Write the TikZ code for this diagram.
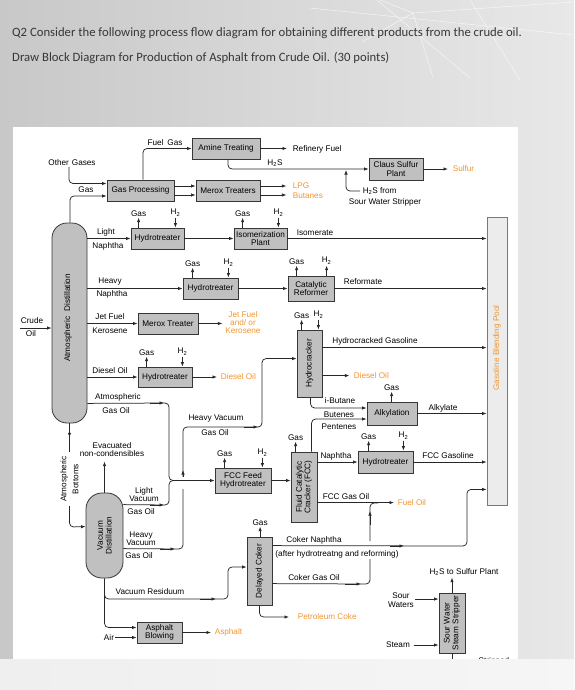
\documentclass[tikz,border=0pt]{standalone}
\usepackage{fontspec}
\setmainfont{Liberation Sans}
\newfontfamily\titlef{Carlito}
\usetikzlibrary{arrows.meta,calc}
\definecolor{bdr}{RGB}{55,55,55}
\definecolor{boxfill}{RGB}{192,192,192}
\definecolor{lnc}{RGB}{40,40,40}
\definecolor{orng}{RGB}{240,150,50}
\definecolor{poolfill}{RGB}{236,236,236}
\definecolor{poolbdr}{RGB}{120,120,120}
\definecolor{bgl}{RGB}{200,200,200}
\definecolor{bgr}{RGB}{232,232,232}
\definecolor{ttl}{RGB}{55,55,55}
\newcommand\dg{\fontsize{8.2}{8.6}\selectfont}
\tikzset{
 box/.style={draw=bdr, fill=boxfill, line width=0.8pt, inner sep=0pt, align=center, font=\dg},
 col/.style={draw=bdr, fill=boxfill, line width=0.8pt, inner sep=0pt},
 lbl/.style={font=\dg, inner sep=0.6pt, align=center},
 org/.style={lbl, text=orng},
 ln/.style={draw=lnc, line width=0.75pt},
 arr/.style={ln, -{Latex[length=4.5pt,width=3.4pt]}},
 rc/.style={rounded corners=4pt},
}
\newcommand{\gasout}[3]{\draw[arr] ($(#1.north west)+(#2,0)$) -- ++(0,-10) node[lbl,above=0.5pt]{#3};}
\newcommand{\hin}[3]{\draw[arr] ($(#1.north east)+(-#2,-10)$) node[lbl,above=0.5pt]{#3} -- ++(0,10);}
\newcommand{\Ht}{H\textsubscript{2}}
\begin{document}
\begin{tikzpicture}[x=1pt,y=-1pt]
\useasboundingbox (0,0) rectangle (574,690);
% background
\shade[left color=bgl, right color=bgr] (0,0) rectangle (574,690);
\begin{scope}[white, opacity=0.7, line width=0.5pt]
\draw (413,13) -- (362,42);
\draw (413,13) -- (574,2);
\draw (413,13) -- (433,77);
\draw (413,13) -- (380,0);
\draw (377,0) -- (470,78);
\draw (310,8) -- (574,35);
\draw (470,0) -- (520,80);
\end{scope}
\fill[white] (13,127) rectangle (518,660);
% title
\node[anchor=west, font=\titlef\fontsize{12.7}{14}\selectfont, text=ttl, inner sep=0] at (12,33) {Q2 Consider the following process flow diagram for obtaining different products from the crude oil.};
\node[anchor=west, font=\titlef\fontsize{12.7}{14}\selectfont, text=ttl, inner sep=0] at (12,58) {Draw Block Diagram for Production of Asphalt from Crude Oil. (30 points)};

% columns
\node[col, rounded corners=15pt, minimum width=35, minimum height=200] (atm) at (69.5,323) {};
\node[lbl, rotate=90] at (68,318) {Atmospheric\hspace{5pt}Distillation};
\node[col, rounded corners=16pt, minimum width=37, minimum height=85] (vac) at (104.5,535.5) {};
\node[lbl, rotate=90] at (vac) {Vacuum\\Distillation};

% boxes
\node[box, minimum width=68, minimum height=21] (amine) at (226,148.5) {Amine Treating};
\node[box, minimum width=67, minimum height=21] (gasp) at (140.5,190.5) {Gas Processing};
\node[box, minimum width=64, minimum height=21] (merox) at (228,190.5) {Merox Treaters};
\node[box, minimum width=54, minimum height=22] (claus) at (396,169) {Claus Sulfur\\Plant};
\node[box, minimum width=53, minimum height=21] (ht1) at (157.5,238.5) {Hydrotreater};
\node[box, minimum width=53, minimum height=21] (isom) at (260.5,238.5) {Isomerization\\Plant};
\node[box, minimum width=55, minimum height=21] (ht2) at (210.5,288.5) {Hydrotreater};
\node[box, minimum width=46, minimum height=25] (catref) at (311,288.5) {Catalytic\\Reformer};
\node[box, minimum width=60, minimum height=21] (merox2) at (168,323.5) {Merox Treater};
\node[box, minimum width=54, minimum height=20] (ht3) at (165,377) {Hydrotreater};
\node[box, minimum width=25, minimum height=67] (hc) at (309.5,363.5) {};
\node[lbl, rotate=90] at (hc) {Hydrocracker};
\node[box, minimum width=50, minimum height=23] (alky) at (392,413.5) {Alkylation};
\node[box, minimum width=55, minimum height=22] (ht4) at (385.5,462) {Hydrotreater};
\node[box, minimum width=56, minimum height=25] (fccf) at (243,480.5) {FCC Feed\\Hydrotreater};
\node[box, minimum width=26, minimum height=70] (fcc) at (304,487) {};
\node[lbl, rotate=90] at (fcc) {Fluid Catalytic\\Cracker (FCC)};
\node[box, minimum width=25, minimum height=68] (coker) at (259.5,571) {};
\node[lbl, rotate=90] at (coker) {Delayed Coker};
\node[box, minimum width=45, minimum height=21] (asph) at (159.5,632.5) {Asphalt\\Blowing};
\node[box, minimum width=26, minimum height=60] (sws) at (452,623) {};
\node[lbl, rotate=90] at (sws) {Sour Water\\Steam Stripper};
\node[draw=poolbdr, fill=poolfill, line width=0.8pt, minimum width=20, minimum height=288, inner sep=0] (pool) at (497,361) {};
\node[org, rotate=90] at (497,348) {Gasoline Blending Pool};

% crude oil
\node[lbl] at (32,321) {Crude};
\node[lbl] at (31,334) {Oil};
\coordinate (crude) at (20,328);
\draw[arr] (crude) -- ($(atm.west)+(0,5)$);

% fuel gas / amine
\draw[arr, rc] ($(gasp.north)+(2.5,0)$) |- (amine.west);
\node[lbl] at (165,143) {Fuel\hspace{4pt}Gas};
\node[lbl, anchor=west] (rfuel) at (292,149) {Refinery Fuel};
\draw[arr, shorten >=5pt] (amine.east) -- (amine.east -| rfuel.west);
\draw[arr, rc] ($(amine.south)+(2,0)$) |- (claus.west);
\node[lbl] at (275,163) {\Ht S};
\node[lbl, anchor=west] (h2sf) at (362,191) {\Ht S from};
\node[lbl] at (385,202) {Sour Water Stripper};
\coordinate (j1) at (346,170);
\draw[arr, rc, shorten <=2pt] (h2sf.west) -| (j1);
\node[org, anchor=west] (sulf) at (452,169) {Sulfur};
\draw[arr, shorten >=4pt] (claus.east) -- (claus.east -| sulf.west);

% other gases, gas
\node[lbl] (og) at (72,163) {Other\hspace{3pt}Gases};
\draw[arr, rc] ($(og.south)+(-3,0)$) |- ($(gasp.west)+(0,-7)$);
\draw[arr, rc] ($(atm.north)+(0.5,0)$) |- ($(gasp.west)+(0,5.5)$);
\node[lbl] at (86,190) {Gas};
\draw[arr] ($(gasp.east)+(0,-4.5)$) -- ($(merox.west)+(0,-4.5)$);
\draw[arr] ($(gasp.east)+(0,4.5)$) -- ($(merox.west)+(0,4.5)$);
\node[org, anchor=west] (lpg) at (292,185.5) {LPG};
\node[org, anchor=west] (butn) at (292,196) {Butanes};
\draw[arr] ($(merox.east)+(0,-4.5)$) -- ++(26,0);
\draw[arr] ($(merox.east)+(0,4.5)$) -- ++(26,0);

% light naphtha
\draw[arr] (ht1.west -| atm.east) -- (ht1.west);
\node[lbl] at (106,232) {Light};
\node[lbl] at (108,246) {Naphtha};
\draw[arr] (ht1.east) -- (isom.west);
\gasout{ht1}{8}{Gas} \hin{ht1}{9}{\Ht}
\gasout{isom}{9}{Gas} \hin{isom}{9}{\Ht}
\draw[arr] (isom.east) -- (isom.east -| pool.west);
\node[lbl] at (315,233) {Isomerate};

% heavy naphtha
\draw[arr] (ht2.west -| atm.east) -- (ht2.west);
\node[lbl] at (110,282) {Heavy};
\node[lbl] at (112,294) {Naphtha};
\draw[arr] (ht2.east) -- (catref.west);
\gasout{ht2}{10}{Gas} \hin{ht2}{10}{\Ht}
\gasout{catref}{9}{Gas} \gasout{catref}{39}{\Ht}
\draw[arr] (catref.east) -- (catref.east -| pool.west);
\node[lbl] at (363,282) {Reformate};

% jet fuel
\draw[arr] (merox2.west -| atm.east) -- (merox2.west);
\node[lbl] at (110,317) {Jet Fuel};
\node[lbl] at (110,331) {Kerosene};
\draw[arr] (merox2.east) -- ++(24,0);
\node[org, font=\fontsize{8.2}{8}\selectfont] at (243,322.5) {Jet Fuel\\and/ or\\Kerosene};

% diesel
\draw[arr] (ht3.west -| atm.east) -- (ht3.west);
\node[lbl] at (110,371) {Diesel Oil};
\gasout{ht3}{9}{Gas} \hin{ht3}{10}{\Ht}
\node[org, anchor=west] (dsl1) at (220,377) {Diesel Oil};
\draw[arr, shorten >=3pt] (ht3.east) -- (ht3.east -| dsl1.west);

% hydrocracker
\gasout{hc}{5}{Gas} \hin{hc}{4}{\Ht}
\draw[arr] ($(hc.north east)+(0,18)$) -- ($(hc.north east -| pool.west)+(0,18)$);
\node[lbl] at (375,341) {Hydrocracked Gasoline};
\draw[arr] ($(hc.north east)+(0,46)$) -- ++(27,0);
\node[org, anchor=west] at (353,376) {Diesel Oil};

% atmospheric gas oil and light vacuum gas oil
\coordinate (ago0) at ($(atm.south east)+(0,-20)$);
\coordinate (lv0) at ($(vac.north east)+(0,12)$);
\coordinate (mrg) at (176,480.5);
\draw[ln, rc] (ago0) -- (169,403) -- (169,480.5) -- (mrg);
\draw[ln, rc] (lv0) -- (169,505) -- (169,480.5) -- (mrg);
\draw[arr] (150,403) -- (164,403);
\draw[arr] (150,505) -- (164,505);
\node[lbl] at (118,397) {Atmospheric};
\node[lbl] at (116,411) {Gas Oil};
\node[lbl, font=\fontsize{8.2}{8}\selectfont] at (144,495) {Light\\Vacuum};
\node[lbl] at (141,512) {Gas Oil};

% heavy vacuum gas oil
\coordinate (hv0) at ($(vac.north east)+(0,56)$);
\coordinate (hvin) at ($(hc.north west)+(0,29)$);
\draw[arr, rc] (hv0) -- (183,549) -- (183,427) -- (262,427) |- (hvin);
\draw[arr] (160,549) -- (175,549);
\draw[arr] (183,480) -- (183,470);
\draw[arr] (244,427) -- (258,427);
\fill[white] (180,476.5) rectangle (186,489);
\node[lbl] at (216,419) {Heavy Vacuum};
\node[lbl] at (215,433) {Gas Oil};
\node[lbl, font=\fontsize{8.2}{8}\selectfont] at (141,539) {Heavy\\Vacuum};
\node[lbl] at (139,556) {Gas Oil};
\draw[arr] (mrg) -- (fccf.west);

% evacuated
\draw[arr] (vac.north) -- ++(0,-31);
\node[lbl, font=\fontsize{8.2}{8}\selectfont] at (112,450) {Evacuated\\non-condensibles};

% atmospheric bottoms
\coordinate (vin) at ($(vac.north west)+(0,34)$);
\draw[arr, rc] (atm.south) -- (69.5,527) -- (vin);
\draw[arr] (atm.south) -- ++(0,14);
\node[lbl, rotate=90, fill=white, inner xsep=4pt, inner ysep=1pt] at (69.5,479) {Atmospheric\\[3.4pt]Bottoms};

% vacuum residuum
\coordinate (vr) at ($(asph.west)+(0,-5)$);
\draw[arr, rc] (vac.south) |- (vr);
\coordinate (ck) at ($(coker.west)+(0,-4)$);
\draw[arr, rc] ($(vac.south)+(0,12)$) |- (228,599) |- (ck);
\draw[arr] (200,599) -- (216,599);
\node[lbl] at (150,592) {Vacuum Residuum};
\node[lbl] (air) at (109,637.5) {Air};
\draw[arr] (air.east) -- (air.east -| asph.west);
\node[org, anchor=west] (aspo) at (214,632.5) {Asphalt};
\draw[arr, shorten >=3pt] (asph.east) -- (aspo.west);

% coker
\gasout{coker}{13.5}{Gas}
\coordinate (cn0) at ($(coker.north east)+(0,9)$);
\coordinate (cnin) at ($(pool.south west)+(0,-16)$);
\draw[arr, rc] (cn0) -- (467,546) |- (cnin);
\draw[arr] (390,546) -- (404,546);
\node[lbl] at (314,540) {Coker Naphtha};
\node[lbl] at (337,554) {(after hydrotreatng and reforming)};
\coordinate (cg0) at ($(coker.north east)+(0,47)$);
\draw[ln, rc] (cg0) -- (370,584) -- (370,559);
\draw[ln, rc] (370,541) -- (370,503) -- (378,503);
\draw[arr] (345,584) -- (361,584);
\draw[arr] (370,525) -- (370,511);
\node[lbl] at (314,578) {Coker Gas Oil};
\node[org, anchor=west] (pc) at (297,617) {Petroleum Coke};
\draw[arr, rc, shorten >=8pt] (coker.south) |- (pc.west);

% FCC
\gasout{fccf}{10}{Gas} \hin{fccf}{9}{\Ht}
\draw[arr] (fccf.east) -- (fccf.east -| fcc.west);
\gasout{fcc}{5}{Gas}
\draw[arr, rc] ($(fcc.north west)+(21,0)$) |- ($(alky.west)+(0,5.5)$);
\node[lbl] at (339,415) {Butenes};
\node[lbl] at (339,427) {Pentenes};
\draw[arr, rc] ($(hc.south west)+(14,0)$) |- ($(alky.west)+(0,-5.5)$);
\node[lbl] at (340,401) {i-Butane};
\gasout{alky}{25}{Gas}
\draw[arr] (alky.east) -- (alky.east -| pool.west);
\node[lbl] at (443,408) {Alkylate};
\draw[arr] (ht4.west -| fcc.east) -- (ht4.west);
\node[lbl] at (336,456) {Naphtha};
\gasout{ht4}{11}{Gas} \hin{ht4}{10}{\Ht}
\draw[arr] (ht4.east) -- (ht4.east -| pool.west);
\node[lbl] at (448,456) {FCC Gasoline};
\coordinate (fg0) at ($(fcc.north east)+(0,51)$);
\node[org, anchor=west] (fo) at (397,503) {Fuel Oil};
\draw[arr, shorten >=3pt] (fg0) -- (fg0 -| fo.west);
\node[lbl] at (346,497) {FCC Gas Oil};

% sour water stripper
\draw[arr] (sws.north) -- ++(0,-15);
\node[lbl] at (464,572) {\Ht S to Sulfur Plant};
\node[lbl, font=\fontsize{8.2}{9.5}\selectfont] (sw) at (401,600) {Sour\\Waters};
\coordinate (swa) at (415,599);
\draw[arr] (swa) -- (swa -| sws.west);
\node[lbl] (stm) at (398,645) {Steam};
\draw[arr] ($(stm.east)+(3,0)$) -- (stm.east -| sws.west);
\draw[ln] (sws.south) -- ++(0,12);
\node[lbl] at (494,661) {Stripped};

% bottom of slide
\shade[left color=bgr!70!white, right color=bgr!40!white] (0,659.5) rectangle (574,690);
\end{tikzpicture}
\end{document}
